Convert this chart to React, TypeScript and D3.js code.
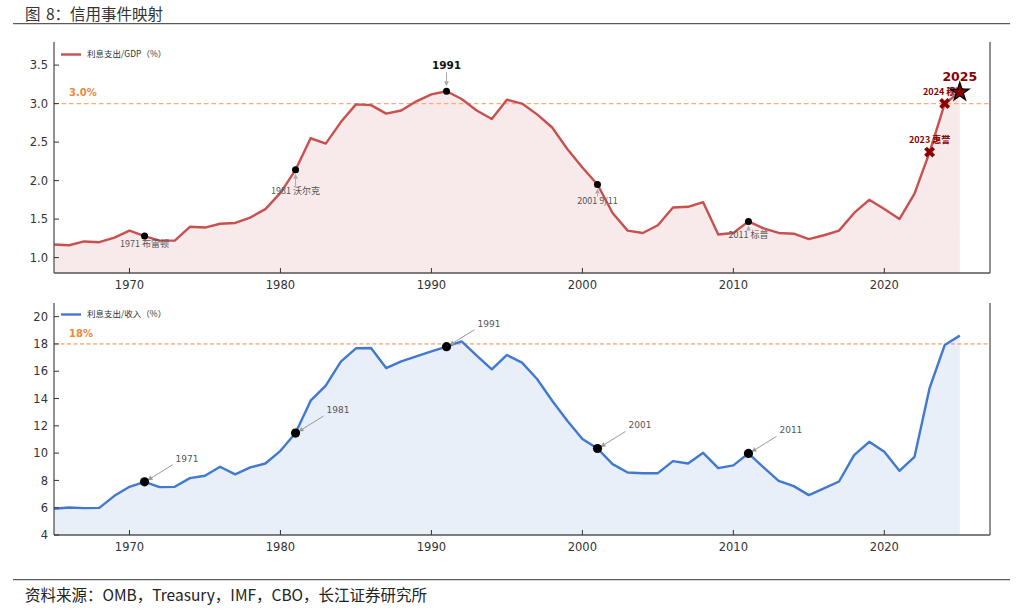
import React from 'react';
import * as d3 from 'd3';

// Data
const years = d3.range(1965, 2026);

const interestGdp = [
  1.17, 1.16, 1.21, 1.2, 1.26, 1.35, 1.28, 1.22, 1.22, 1.4,
  1.39, 1.44, 1.45, 1.52, 1.63, 1.84, 2.14, 2.55, 2.48, 2.76,
  2.99, 2.98, 2.87, 2.91, 3.03, 3.12, 3.16, 3.06, 2.91, 2.8,
  3.05, 3.0, 2.86, 2.69, 2.41, 2.17, 1.95, 1.58, 1.35, 1.32,
  1.42, 1.65, 1.66, 1.72, 1.3, 1.32, 1.47, 1.38, 1.32, 1.31,
  1.24, 1.29, 1.35, 1.58, 1.75, 1.63, 1.5, 1.83, 2.37, 3.0,
  3.15,
];

const interestRevenue = [
  5.92, 6.01, 5.97, 5.99, 6.87, 7.53, 7.9, 7.51, 7.53, 8.17,
  8.34, 9.0, 8.44, 8.95, 9.24, 10.17, 11.47, 13.84, 14.94, 16.7,
  17.68, 17.7, 16.23, 16.72, 17.09, 17.46, 17.8, 18.19, 17.14, 16.14,
  17.19, 16.63, 15.43, 13.84, 12.37, 11.03, 10.34, 9.19, 8.58, 8.53,
  8.53, 9.41, 9.24, 10.02, 8.9, 9.1, 9.98, 8.95, 7.97, 7.58,
  6.92, 7.41, 7.92, 9.85, 10.83, 10.1, 8.7, 9.73, 14.77, 17.92,
  18.61,
];

const topEvents = [
  { year: 1971, label: '1971 布雷顿' },
  { year: 1981, label: '1981 沃尔克' },
  { year: 1991, label: '1991' },
  { year: 2001, label: '2001 9/11' },
  { year: 2011, label: '2011 标普' },
];
const downgrades = [
  { year: 2023, label: '2023 惠誉' },
  { year: 2024, label: '2024 穆迪' },
];
const bottomEvents = [1971, 1981, 1991, 2001, 2011];

const xTicks = [1970, 1980, 1990, 2000, 2010, 2020];
const topYTicks = [1.0, 1.5, 2.0, 2.5, 3.0, 3.5];
const bottomYTicks = [4, 6, 8, 10, 12, 14, 16, 18, 20];

const topThreshold = 3.0;
const bottomThreshold = 18;

const FONT = 'DejaVu Sans, Noto Sans CJK SC, sans-serif';
const CJK = 'Noto Sans CJK SC, DejaVu Sans, sans-serif';

const left = 54;
const right = 990;

const x = d3.scaleLinear().domain([1965, 2027]).range([left, right]);

function Arrow({ x1, y1, x2, y2, color }) {
  // line with a small arrow head at (x2, y2)
  const ang = Math.atan2(y2 - y1, x2 - x1);
  const h = 5;
  const w = 2.4;
  const bx = x2 - h * Math.cos(ang);
  const by = y2 - h * Math.sin(ang);
  const p1 = [bx + w * Math.sin(ang), by - w * Math.cos(ang)];
  const p2 = [bx - w * Math.sin(ang), by + w * Math.cos(ang)];
  return (
    <g>
      <line x1={x1} y1={y1} x2={bx} y2={by} stroke={color} strokeWidth={1} />
      <path d={`M${x2},${y2}L${p1[0]},${p1[1]}L${p2[0]},${p2[1]}Z`} fill={color} />
    </g>
  );
}

function Axes({ y, top, bottom, yTicks, fmt }) {
  return (
    <g>
      {/* spines */}
      <line x1={left} x2={left} y1={top} y2={bottom} stroke="#555" strokeWidth={1.3} />
      <line x1={right} x2={right} y1={top} y2={bottom} stroke="#555" strokeWidth={1.3} />
      <line x1={left} x2={right} y1={bottom} y2={bottom} stroke="#555" strokeWidth={1.3} />
      {yTicks.map((t) => (
        <g key={t}>
          <line x1={left} x2={left + 5} y1={y(t)} y2={y(t)} stroke="#333" strokeWidth={1} />
          <text x={left - 6} y={y(t)} dy="0.36em" textAnchor="end" fontSize={11.5} fill="#333" fontFamily={FONT}>
            {fmt(t)}
          </text>
        </g>
      ))}
      {xTicks.map((t) => (
        <g key={t}>
          <line x1={x(t)} x2={x(t)} y1={bottom} y2={bottom - 5} stroke="#333" strokeWidth={1} />
          <text x={x(t)} y={bottom + 15.5} textAnchor="middle" fontSize={11.5} fill="#333" fontFamily={FONT}>
            {t}
          </text>
        </g>
      ))}
    </g>
  );
}

function TopChart() {
  const top = 42;
  const bottom = 273;
  const y = d3.scaleLinear().domain([0.8, 3.8]).range([bottom, top]);
  const pts = years.map((yr, i) => [yr, interestGdp[i]] as [number, number]);
  const line = d3.line<[number, number]>().x((d) => x(d[0])).y((d) => y(d[1]));
  const area = d3
    .area<[number, number]>()
    .x((d) => x(d[0]))
    .y0(bottom)
    .y1((d) => y(d[1]));
  const val = (yr: number) => interestGdp[years.indexOf(yr)];
  const star = d3.symbol().type(d3.symbolStar).size(105)();
  const cross = d3.symbol().type(d3.symbolCross).size(75)();
  const last = years[years.length - 1];

  return (
    <g>
      <path d={area(pts) || ''} fill="#c8504f" fillOpacity={0.12} />
      <line
        x1={left}
        x2={right}
        y1={y(topThreshold)}
        y2={y(topThreshold)}
        stroke="#f6ae78"
        strokeWidth={1.3}
        strokeDasharray="4.5,3"
      />
      <text x={69} y={y(topThreshold) - 7.5} fontSize={10} fontWeight="bold" fill="#f0883a" fontFamily={FONT}>
        3.0%
      </text>
      <path d={line(pts) || ''} fill="none" stroke="#c8504f" strokeWidth={2.4} strokeLinejoin="round" />
      <Axes y={y} top={top} bottom={bottom} yTicks={topYTicks} fmt={d3.format('.1f')} />

      {topEvents.map((e) => {
        const cx = x(e.year);
        const cy = y(val(e.year));
        if (e.year === 1991) {
          return (
            <g key={e.year}>
              <Arrow x1={cx} y1={cy - 19} x2={cx} y2={cy - 5} color="#aaa" />
              <text x={cx} y={cy - 22} textAnchor="middle" fontSize={10.5} fontWeight="bold" fill="#111" fontFamily={FONT}>
                {e.label}
              </text>
              <circle cx={cx} cy={cy} r={3.5} fill="#000" />
            </g>
          );
        }
        const off = e.year === 1971 ? 11 : e.year === 1981 ? 24 : e.year === 2001 ? 20 : 17;
        return (
          <g key={e.year}>
            <Arrow x1={cx} y1={cy + off - 8} x2={cx} y2={cy + 4} color="#aaa" />
            <circle cx={cx} cy={cy} r={3.5} fill="#000" />
            <text x={cx} y={cy + off} textAnchor="middle" fontSize={9} fill="#555" fontFamily={CJK}>
              {e.label}
            </text>
          </g>
        );
      })}

      {downgrades.map((e) => {
        const cx = x(e.year);
        const cy = y(val(e.year));
        return (
          <g key={e.year}>
            <path d={cross || ''} transform={`translate(${cx},${cy}) rotate(45)`} fill="#8b0000" />
            <text
              x={e.year === 2024 ? cx - 1 : cx}
              y={cy - 9}
              textAnchor="middle"
              fontSize={9}
              fontWeight="bold"
              fill="#8b0000"
              fontFamily={CJK}
            >
              {e.label}
            </text>
          </g>
        );
      })}
      <path
        d={star || ''}
        transform={`translate(${x(last)},${y(val(last))})`}
        fill="#8b0000"
        stroke="#000"
        strokeWidth={1.3}
      />
      <text
        x={x(last)}
        y={y(val(last)) - 11}
        textAnchor="middle"
        fontSize={12.5}
        fontWeight="bold"
        fill="#8b0000"
        fontFamily={FONT}
      >
        {last}
      </text>

      {/* legend */}
      <line x1={61} x2={81} y1={54.5} y2={54.5} stroke="#c8504f" strokeWidth={2.4} />
      <text x={87} y={54.5} dy="0.35em" fontSize={8.5} fill="#333" fontFamily={CJK}>
        利息支出/GDP（%）
      </text>
    </g>
  );
}

function BottomChart() {
  const top = 303;
  const bottom = 535;
  const y = d3.scaleLinear().domain([4, 21]).range([bottom, top]);
  const pts = years.map((yr, i) => [yr, interestRevenue[i]] as [number, number]);
  const line = d3.line<[number, number]>().x((d) => x(d[0])).y((d) => y(d[1]));
  const area = d3
    .area<[number, number]>()
    .x((d) => x(d[0]))
    .y0(bottom)
    .y1((d) => y(d[1]));
  const val = (yr: number) => interestRevenue[years.indexOf(yr)];

  return (
    <g>
      <path d={area(pts) || ''} fill="#4178d0" fillOpacity={0.12} />
      <line
        x1={left}
        x2={right}
        y1={y(bottomThreshold)}
        y2={y(bottomThreshold)}
        stroke="#f08a48"
        strokeWidth={1}
        strokeDasharray="4,2.5"
      />
      <text x={69} y={y(bottomThreshold) - 6.5} fontSize={10} fontWeight="bold" fill="#f0883a" fontFamily={FONT}>
        18%
      </text>
      <path d={line(pts) || ''} fill="none" stroke="#4178d0" strokeWidth={2.4} strokeLinejoin="round" />
      <Axes y={y} top={top} bottom={bottom} yTicks={bottomYTicks} fmt={(d) => `${d}`} />

      {bottomEvents.map((yr) => {
        const cx = x(yr);
        const cy = y(val(yr));
        return (
          <g key={yr}>
            <Arrow x1={cx + 28} y1={cy - 17} x2={cx + 3} y2={cy - 1.5} color="#999" />
            <circle cx={cx} cy={cy} r={4.6} fill="#000" />
            <text x={cx + 31} y={cy - 20} fontSize={9} fill="#555" fontFamily={FONT}>
              {yr}
            </text>
          </g>
        );
      })}

      {/* legend */}
      <line x1={61} x2={81} y1={314.5} y2={314.5} stroke="#4178d0" strokeWidth={2.4} />
      <text x={87} y={314.5} dy="0.35em" fontSize={8.5} fill="#333" fontFamily={CJK}>
        利息支出/收入（%）
      </text>
    </g>
  );
}

export default function App() {
  return (
    <svg
      width={1024}
      height={610}
      style={{ position: 'absolute', left: 0, top: 0, background: '#fff' }}
    >
      <rect width={1024} height={610} fill="#fff" />
      <text x={25} y={20} fontSize={15.5} fill="#333" fontFamily={CJK}>
        图
      </text>
      <text x={46} y={20} fontSize={15.5} fill="#333" fontFamily={CJK}>
        8：信用事件映射
      </text>
      <line x1={13} x2={1010} y1={23.7} y2={23.7} stroke="#333" strokeWidth={1} />
      <TopChart />
      <BottomChart />
      <line x1={13} x2={1010} y1={579.7} y2={579.7} stroke="#333" strokeWidth={1} />
      <text x={25} y={600.5} fontSize={15.5} fill="#222" fontFamily={CJK}>
        资料来源：OMB，Treasury，IMF，CBO，长江证券研究所
      </text>
    </svg>
  );
}
